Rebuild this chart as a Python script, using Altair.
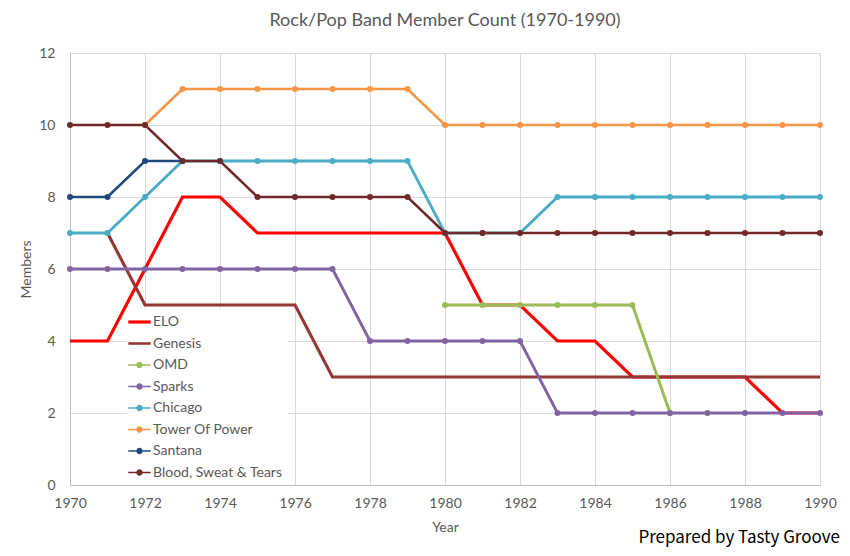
import altair as alt
import pandas as pd

years = list(range(1970, 1991))
bands = ["ELO", "Genesis", "OMD", "Sparks", "Chicago", "Tower Of Power",
         "Santana", "Blood, Sweat & Tears"]
elo = [4, 4, 6, 8, 8, 7, 7, 7, 7, 7, 7, 5, 5, 4, 4, 3, 3, 3, 3, 2, 2]
genesis = [None, 7, 5, 5, 5, 5, 5, 3, 3, 3, 3, 3, 3, 3, 3, 3, 3, 3, 3, 3, 3]
omd = [None] * 10 + [5, 5, 5, 5, 5, 5, 2] + [None] * 4
sparks = [6, 6, 6, 6, 6, 6, 6, 6, 4, 4, 4, 4, 4, 2, 2, 2, 2, 2, 2, 2, 2]
chicago = [7, 7, 8, 9, 9, 9, 9, 9, 9, 9, 7, 7, 7, 8, 8, 8, 8, 8, 8, 8, 8]
tower = [None, None, 10, 11, 11, 11, 11, 11, 11, 11, 10, 10, 10, 10, 10, 10, 10, 10, 10, 10, 10]
santana = [8, 8, 9, 9] + [None] * 17
bst = [10, 10, 10, 9, 9, 8, 8, 8, 8, 8, 7, 7, 7, 7, 7, 7, 7, 7, 7, 7, 7]
series = [elo, genesis, omd, sparks, chicago, tower, santana, bst]
marker_bands = ["OMD", "Sparks", "Chicago", "Tower Of Power", "Santana", "Blood, Sweat & Tears"]

colors = ["#FF0000", "#953735", "#9BBB59", "#8064A2", "#4BACC6", "#F79646", "#1F497D", "#70282A"]
widths = [3.2, 2.5, 1.5, 1.5, 1.5, 1.5, 1.5, 1.5]


def seg(h):
    return f"M-1.4,-{h}H1.4V{h}H-1.4Z"


circ = "M-0.4,0A0.4,0.4,0,1,1,0.4,0A0.4,0.4,0,1,1,-0.4,0Z"
paths = [seg(0.2), seg(0.16)] + [seg(0.1) + " " + circ] * 6

rows = []
for b, vals in zip(bands, series):
    for y, v in zip(years, vals):
        if v is not None:
            rows.append({"band": b, "year": y, "members": v})
df = pd.DataFrame(rows)
df_pts = df[df["band"].isin(marker_bands)]
df_leg = pd.DataFrame({"band": bands})

GREY = "#595959"
FONT = "Lato"

xenc = alt.X("year:Q", scale=alt.Scale(domain=[1970, 1990], nice=False, zero=False),
             axis=alt.Axis(values=years[::2], format="d", title="Year", labelFlush=False))
yenc = alt.Y("members:Q", scale=alt.Scale(domain=[0, 12], nice=False),
             axis=alt.Axis(values=[0, 2, 4, 6, 8, 10, 12], title="Members", labelFlush=False))
cscale = alt.Scale(domain=bands, range=colors)

lines = alt.Chart(df).mark_line().encode(
    x=xenc, y=yenc,
    color=alt.Color("band:N", scale=cscale, legend=None, sort=bands),
    strokeWidth=alt.StrokeWidth("band:N", scale=alt.Scale(domain=bands, range=widths), legend=None),
)

points = alt.Chart(df_pts).mark_point(filled=True, size=36, opacity=1).encode(
    x=xenc, y=yenc,
    color=alt.Color("band:N", scale=cscale, legend=None),
)

leg = alt.Legend(
    title=None, orient="none", legendX=56.5, legendY=256,
    symbolSize=256, symbolStrokeWidth=0, symbolOpacity=1,
    labelFont=FONT, labelFontSize=14, labelColor=GREY, labelOffset=5.5,
    rowPadding=6.5, padding=5, fillColor="white", strokeColor=None,
)

legend_layer = alt.Chart(df_leg).mark_point(filled=True, opacity=0).encode(
    color=alt.Color("band:N", scale=cscale, legend=leg),
    shape=alt.Shape("band:N", scale=alt.Scale(domain=bands, range=paths), legend=leg),
)

credit = alt.Chart(pd.DataFrame({"t": ["Prepared by Tasty Groove"]})).mark_text(
    align="right", baseline="middle", font="Noto Sans CJK JP", fontSize=17, color="#000000"
).encode(text="t:N", x=alt.value(770), y=alt.value(485))

chart = alt.layer(lines, points, legend_layer, credit).resolve_scale(
    color="independent", shape="independent"
).resolve_legend(color="independent", shape="independent").properties(
    width=750, height=432,
    title=alt.Title("Rock/Pop Band Member Count (1970-1990)", font=FONT, fontSize=18,
                    fontWeight="normal", color=GREY, anchor="middle", offset=16),
    autosize=alt.AutoSizeParams(type="none"),
    padding={"left": 70, "top": 53, "right": 30, "bottom": 71},
).configure_view(stroke=None).configure_axis(
    labelFont=FONT, labelFontSize=14, labelColor=GREY,
    titleFont=FONT, titleFontSize=14, titleColor=GREY, titleFontWeight="normal",
    gridColor="#D9D9D9", gridWidth=1, domainColor="#BFBFBF", ticks=False,
).configure_axisX(labelPadding=11, titlePadding=10).configure_axisY(labelPadding=15, titlePadding=5)

chart.save("out.html", embed_options={"renderer": "svg", "actions": False})
